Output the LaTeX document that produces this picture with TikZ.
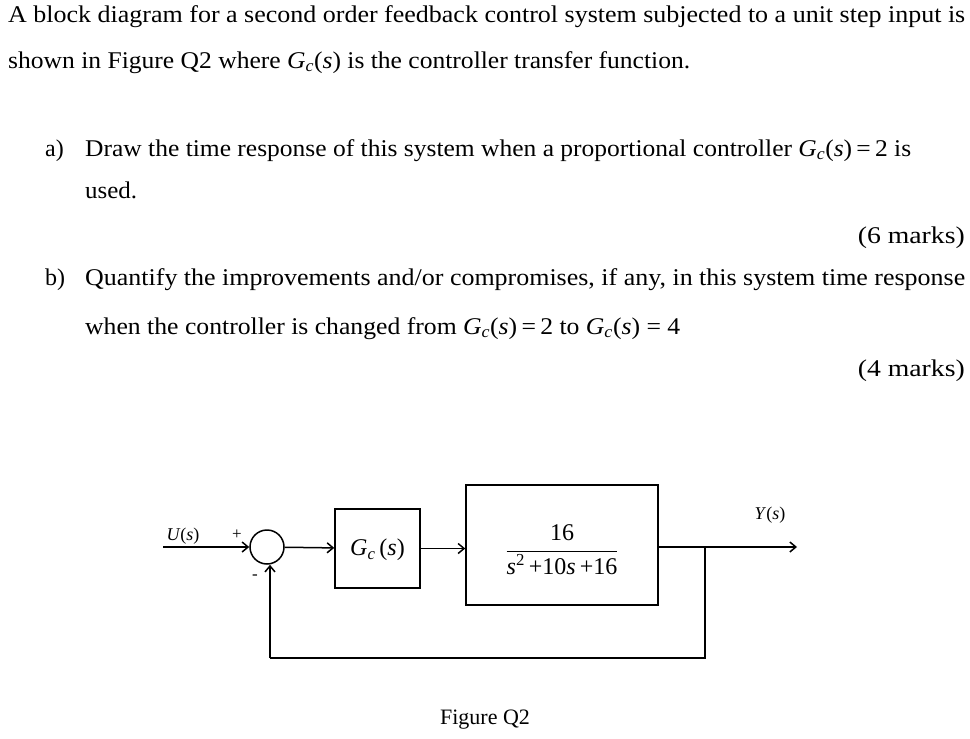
\documentclass[tikz,border=0pt]{standalone}
\usepackage{amsmath}
\usepackage{fontspec}
\setmainfont{Liberation Serif}
\usetikzlibrary{arrows.meta}
\newcommand{\Gcs}{\textit{G\textsubscript{c}}(\textit{s})}
\newcommand{\fitw}[2]{\resizebox{#1}{\height}{#2}}
\begin{document}
\begin{tikzpicture}[x=1pt,y=-1pt,
  txt/.style={anchor=base west,inner sep=0pt,font=\fontsize{24}{28}\selectfont},
  dtxt/.style={inner sep=0pt,font=\fontsize{24}{28}\selectfont},
  blk/.style={draw,line width=1.5pt},
  ln/.style={line width=1.5pt},
  arr/.style={ln,-{Straight Barb[length=6pt,width=10pt]}}]
\useasboundingbox (0,0) rectangle (970,739);
\fill[white] (0,0) rectangle (970,739);
\node[txt] (l1) at (8,22) {\fitw{957pt}{A block diagram for a second order feedback control system subjected to a unit step input is}};
\node[txt] (l2) at (8,68) {\fitw{682pt}{shown in Figure Q2 where \Gcs{} is the controller transfer function.}};
\node[txt] (qa) at (45,156) {a)};
\node[txt] (qa1) at (85,156) {\fitw{826pt}{Draw the time response of this system when a proportional controller \Gcs\,=\,2 is}};
\node[txt] (qa2) at (85,198) {\fitw{52pt}{used.}};
\node[txt,anchor=base east] (m6) at (965,243) {\fitw{107pt}{(6 marks)}};
\node[txt] (qb) at (45,285) {b)};
\node[txt] (qb1) at (85,285) {\fitw{880pt}{Quantify the improvements and/or compromises, if any, in this system time response}};
\node[txt] (qb2) at (85,334) {\fitw{595pt}{when the controller is changed from \Gcs\,=\,2 to \Gcs{} = 4}};
\node[txt,anchor=base east] (m4) at (965,376) {\fitw{107pt}{(4 marks)}};
% diagram
\coordinate (in) at (163,547);
\node[draw,circle,line width=1.5pt,minimum size=34pt,inner sep=0pt] (sum) at (267,547) {};
\node[blk,minimum width=85pt,minimum height=79pt] (gc) at (377.5,548.5) {};
\node[dtxt] (gct) at (377.5,550) {\textit{G\textsubscript{c}}\,(\textit{s})};
\node[blk,minimum width=192pt,minimum height=120pt] (pl) at (562,545) {};
\node[dtxt] (plt) at (562,550) {$\dfrac{\text{16}}{\text{\textit{s}\textsuperscript{2}\,+10\textit{s}\,+16}}$};
\coordinate (br) at (705,547);
\coordinate (out) at (797,547);
\coordinate (bl) at (705,658);
\coordinate (bll) at (270,658);
\node[dtxt,font=\fontsize{18}{20}\selectfont] (u) at (183,536) {\textit{U}(\textit{s})};
\node[dtxt,font=\fontsize{18}{20}\selectfont] (y) at (770,515) {\textit{Y}(\textit{s})};
\node[dtxt,font=\fontsize{17}{18}\selectfont] (pl1) at (237,535) {+};
\node[dtxt,font=\fontsize{17}{18}\selectfont] (mi) at (255,577) {-};
\draw[arr] (in) -- (sum);
\draw[arr] (sum) -- (gc);
\draw[arr] (gc) -- (pl.west |- gc);
\draw[ln] (pl.east |- br) -- (br);
\draw[arr] (br) -- (out);
\draw[ln] (br) -- (bl) -- (bll);
\draw[arr] (bll) -- (sum.south -| bll);
\node[dtxt,font=\fontsize{22}{26}\selectfont] (fig) at (485,720) {Figure Q2};
\end{tikzpicture}
\end{document}
